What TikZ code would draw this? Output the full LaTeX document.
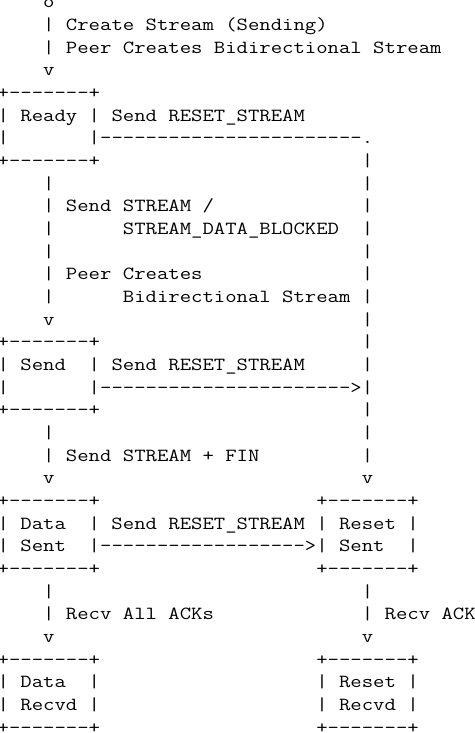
\documentclass[tikz,border=0pt]{standalone}
\newlength\chw
\newcommand\asciifont{\fontsize{18.5}{22.66}\selectfont\ttfamily\frenchspacing}
\ExplSyntaxOn
\cs_new:Npn \rdash #1 {\prg_replicate:nn{#1}{\hbox{-}}}
\ExplSyntaxOff
\newcommand\boxedge{+\rdash{7}+}
\tikzset{ascii/.style={anchor=base west, inner sep=0pt, outer sep=0pt, font=\asciifont, text=black}}
\newcommand\seg[4]{\node[ascii] (#1) at ({#2*11.38-2.3},{-(8.0+22.66*#3)}) {\scalebox{\sx}[1]{#4}};}
\begin{document}
\settowidth\chw{\asciifont M}%
\pgfmathsetmacro\sx{11.38/\chw}%
\begin{tikzpicture}[x=1pt,y=1pt]
\fill[white] (0,0) rectangle (474,-733);
\useasboundingbox (0,0) rectangle (474,-733);
% start
\seg{start}{4}{0}{o}
\seg{lblCreate}{4}{1}{|~Create~Stream~(Sending)}
\seg{lblPeerA}{4}{2}{|~Peer~Creates~Bidirectional~Stream}
\seg{arrA}{4}{3}{v}
% Ready
\seg{readyT}{0}{4}{\boxedge}
\seg{ready}{0}{5}{|~Ready~|}
\seg{lblResetA}{10}{5}{Send~RESET\_STREAM}
\seg{readyL}{0}{6}{|}
\seg{resetLineA}{8}{6}{|\rdash{23}.}
\seg{readyB}{0}{7}{\boxedge}
\seg{rA7}{32}{7}{|}
\seg{vA8}{4}{8}{|}
\seg{rA8}{32}{8}{|}
\seg{lblSendA}{4}{9}{|~Send~STREAM~/}
\seg{rA9}{32}{9}{|}
\seg{vA10}{4}{10}{|}
\seg{lblSendB}{11}{10}{STREAM\_DATA\_BLOCKED}
\seg{rA10}{32}{10}{|}
\seg{vA11}{4}{11}{|}
\seg{rA11}{32}{11}{|}
\seg{lblPeerB}{4}{12}{|~Peer~Creates}
\seg{rA12}{32}{12}{|}
\seg{vA13}{4}{13}{|}
\seg{lblPeerC}{11}{13}{Bidirectional~Stream}
\seg{rA13}{32}{13}{|}
\seg{arrB}{4}{14}{v}
\seg{rA14}{32}{14}{|}
% Send
\seg{sendT}{0}{15}{\boxedge}
\seg{rA15}{32}{15}{|}
\seg{send}{0}{16}{|~Send}
\seg{sendR}{8}{16}{|}
\seg{lblResetB}{10}{16}{Send~RESET\_STREAM}
\seg{rA16}{32}{16}{|}
\seg{sendL}{0}{17}{|}
\seg{resetLineB}{8}{17}{|\rdash{22}>|}
\seg{sendB}{0}{18}{\boxedge}
\seg{rA18}{32}{18}{|}
\seg{vB19}{4}{19}{|}
\seg{rA19}{32}{19}{|}
\seg{lblFin}{4}{20}{|~Send~STREAM~+~FIN}
\seg{rA20}{32}{20}{|}
\seg{arrC}{4}{21}{v}
\seg{arrD}{32}{21}{v}
% Data Sent / Reset Sent
\seg{dsentT}{0}{22}{\boxedge}
\seg{rsentT}{28}{22}{\boxedge}
\seg{dsent}{0}{23}{|~Data}
\seg{lblResetC}{8}{23}{|~Send~RESET\_STREAM~|~Reset~|}
\seg{dsentB2}{0}{24}{|~Sent}
\seg{resetLineC}{8}{24}{|\rdash{18}>|~Sent}
\seg{rsentR}{36}{24}{|}
\seg{dsentB}{0}{25}{\boxedge}
\seg{rsentB}{28}{25}{\boxedge}
\seg{vC26}{4}{26}{|}
\seg{vD26}{32}{26}{|}
\seg{lblAcks}{4}{27}{|~Recv~All~ACKs}
\seg{lblAck}{32}{27}{|~Recv~ACK}
\seg{arrE}{4}{28}{v}
\seg{arrF}{32}{28}{v}
% Data Recvd / Reset Recvd
\seg{drecvT}{0}{29}{\boxedge}
\seg{rrecvT}{28}{29}{\boxedge}
\seg{drecv}{0}{30}{|~Data}
\seg{drecvR}{8}{30}{|}
\seg{rrecv}{28}{30}{|~Reset~|}
\seg{drecvM}{0}{31}{|~Recvd~|}
\seg{rrecvM}{28}{31}{|~Recvd~|}
\seg{drecvB}{0}{32}{\boxedge}
\seg{rrecvB}{28}{32}{\boxedge}
\end{tikzpicture}
\end{document}
